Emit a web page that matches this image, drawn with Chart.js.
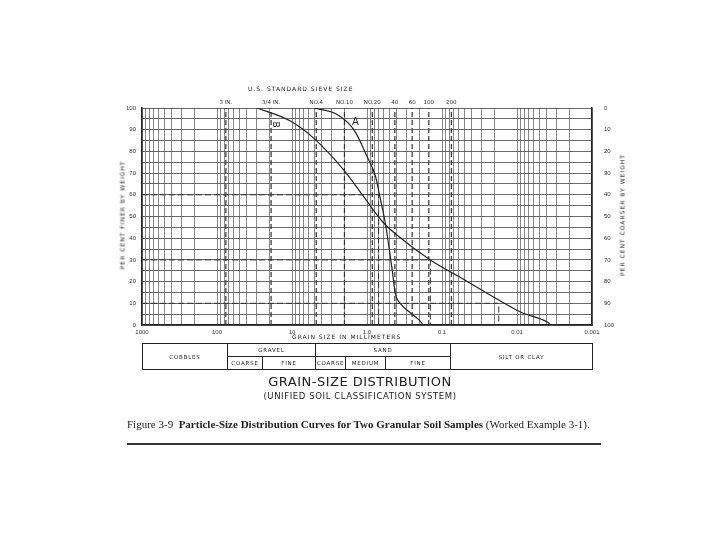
<!DOCTYPE html>
<html>
<head>
<meta charset="utf-8">
<script src="https://cdn.jsdelivr.net/npm/chart.js@4.4.0/dist/chart.umd.min.js"></script>
<style>
body { margin: 0; background: #fff; width: 720px; height: 540px; position: relative; font-family: "DejaVu Sans", sans-serif; color: #222; }
#wrap { position: absolute; left: 0; top: 0; width: 720px; height: 340px; }
.t { position: absolute; white-space: nowrap; font-size: 6px; letter-spacing: 1px; }
table { position: absolute; left: 142px; top: 343px; border-collapse: collapse; font-size: 5.5px; letter-spacing: 0.8px; }
td { border: 1.5px solid #222; text-align: center; padding: 0; height: 12px; }
</style>
</head>
<body>
<div id="wrap"><canvas id="c"></canvas></div>
<div class="t" style="left:248px;top:85px;">U.S. STANDARD SIEVE SIZE</div>
<div class="t" style="left:122px;top:215px;transform:translate(-50%,-50%) rotate(-90deg);">PER CENT FINER BY WEIGHT</div>
<div class="t" style="left:622px;top:215px;transform:translate(-50%,-50%) rotate(-90deg);">PER CENT COARSER BY WEIGHT</div>
<div class="t" style="left:292px;top:333px;">GRAIN SIZE IN MILLIMETERS</div>
<div class="t" style="left:352px;top:116px;font-size:10px;">A</div>
<div class="t" style="left:272px;top:120px;font-size:9px;transform:rotate(90deg);">B</div>
<table>
<tr><td rowspan="2" style="width:84px;">COBBLES</td><td colspan="2">GRAVEL</td><td colspan="3">SAND</td><td rowspan="2" style="width:141px;">SILT OR CLAY</td></tr>
<tr><td style="width:34px;">COARSE</td><td style="width:52px;">FINE</td><td style="width:29px;">COARSE</td><td style="width:39px;">MEDIUM</td><td style="width:64px;">FINE</td></tr>
</table>
<div class="t" style="left:360px;top:374px;transform:translateX(-50%);font-size:13px;letter-spacing:0.5px;">GRAIN-SIZE DISTRIBUTION</div>
<div class="t" style="left:360px;top:391px;transform:translateX(-50%);font-size:8.5px;letter-spacing:0.6px;">(UNIFIED SOIL CLASSIFICATION SYSTEM)</div>
<div class="t" style="left:127px;top:418px;font-family:'Liberation Serif',serif;font-size:11px;letter-spacing:0;">Figure 3-9&nbsp; <b>Particle-Size Distribution Curves for Two Granular Soil Samples</b> (Worked Example 3-1).</div>
<div style="position:absolute;left:127px;top:443px;width:474px;height:1.5px;background:#333;"></div>
<script>
// curve B (well graded) and curve A (uniform sand)
const sizeB = [29.3, 10.5, 5.1, 2.05, 1.1, 0.6, 0.4, 0.143, 0.051, 0.0175, 0.009, 0.004, 0.0035];
const finerB = [100, 94, 86, 71.5, 59, 47, 41.5, 30, 21, 11.5, 6, 1.5, 0];
const sizeA = [5.1, 2.5, 1.5, 1.0, 0.77, 0.66, 0.57, 0.46, 0.42, 0.36, 0.26, 0.185, 0.18];
const finerA = [100, 97, 90, 77.7, 68.5, 57.7, 47, 25, 14.6, 10, 5.4, 0.8, 0];
// sieve openings (mm) and their names
const sieveSizes = [76.2, 19.0, 4.75, 2.0, 0.85, 0.425, 0.25, 0.15, 0.075];
const sieveLabels = ['3 IN.', '3/4 IN.', 'NO.4', 'NO.10', 'NO.20', '40', '60', '100', '200'];
const bottomTicks = [1000, 100, 10, 1, 0.1, 0.01, 0.001];
const bottomLabels = ['1000', '100', '10', '1.0', '0.1', '0.01', '0.001'];
// D60 / D30 / D10 construction lines
const dPercent = [60, 30, 10];
const dSize = [0.7, 0.143, 0.0175];

const datasets = [
  { data: sizeB.map((x, i) => ({ x, y: finerB[i] })), borderColor: '#222', borderWidth: 1.2, cubicInterpolationMode: 'monotone' },
  { data: sizeA.map((x, i) => ({ x, y: finerA[i] })), borderColor: '#222', borderWidth: 1.2, cubicInterpolationMode: 'monotone' }
];
sieveSizes.forEach(s => datasets.push({ data: [{ x: s, y: 0 }, { x: s, y: 100 }], borderColor: '#333', borderWidth: 1.2, borderDash: [5, 3] }));
dPercent.forEach((p, i) => datasets.push({ data: [{ x: 1000, y: p }, { x: dSize[i], y: p }, { x: dSize[i], y: 0 }], borderColor: '#333', borderWidth: 1, borderDash: [6, 3] }));

function logTicks(scale) {
  const t = [];
  for (let e = -3; e < 3; e++) for (let m = 1; m < 10; m++) t.push({ value: m * Math.pow(10, e) });
  t.push({ value: 1000 });
  scale.ticks = t;
}

// sieve names above the plot, placed through the x scale
const sieveLabelPlugin = {
  id: 'sieveLabels',
  afterDraw(chart) {
    const ctx = chart.ctx, x = chart.scales.x, top = chart.chartArea.top;
    ctx.save();
    ctx.font = '5.5px "DejaVu Sans"';
    ctx.fillStyle = '#333';
    ctx.textAlign = 'center';
    ctx.textBaseline = 'bottom';
    sieveSizes.forEach((s, i) => ctx.fillText(sieveLabels[i], x.getPixelForValue(s), top - 3));
    ctx.restore();
  }
};

new Chart(document.getElementById('c'), {
  type: 'line',
  data: { datasets },
  plugins: [sieveLabelPlugin],
  options: {
    responsive: true, maintainAspectRatio: false, animation: false,
    layout: { padding: { left: 110, right: 96, top: 108, bottom: 0 } },
    elements: { point: { radius: 0 } },
    plugins: { legend: { display: false }, tooltip: { enabled: false } },
    scales: {
      x: {
        type: 'logarithmic', reverse: true, min: 0.001, max: 1000,
        afterBuildTicks: logTicks,
        afterFit: s => { s.height = 15; },
        grid: { color: '#555', lineWidth: 0.7, drawTicks: false },
        border: { color: '#222', width: 1.5 },
        ticks: {
          autoSkip: false, maxRotation: 0, font: { size: 6 }, color: '#333', padding: 4,
          callback: v => { const i = bottomTicks.findIndex(b => Math.abs(b - v) / b < 1e-6); return i >= 0 ? bottomLabels[i] : ''; }
        }
      },
      y: {
        min: 0, max: 100,
        afterBuildTicks: s => { s.ticks = []; for (let v = 0; v <= 100; v += 5) s.ticks.push({ value: v }); },
        afterFit: s => { s.width = 32; },
        grid: { color: '#444', lineWidth: 0.8, drawTicks: false },
        border: { color: '#222', width: 1.5 },
        ticks: { font: { size: 6 }, color: '#333', padding: 6, callback: v => v % 10 === 0 ? v : '' }
      },
      yRight: {
        position: 'right', min: 0, max: 100, reverse: true,
        afterBuildTicks: s => { s.ticks = []; for (let v = 0; v <= 100; v += 10) s.ticks.push({ value: v }); },
        afterFit: s => { s.width = 32; },
        grid: { display: false },
        border: { color: '#222', width: 1.5 },
        ticks: { font: { size: 6 }, color: '#333', padding: 4 }
      }
    }
  }
});
</script>
</body>
</html>
